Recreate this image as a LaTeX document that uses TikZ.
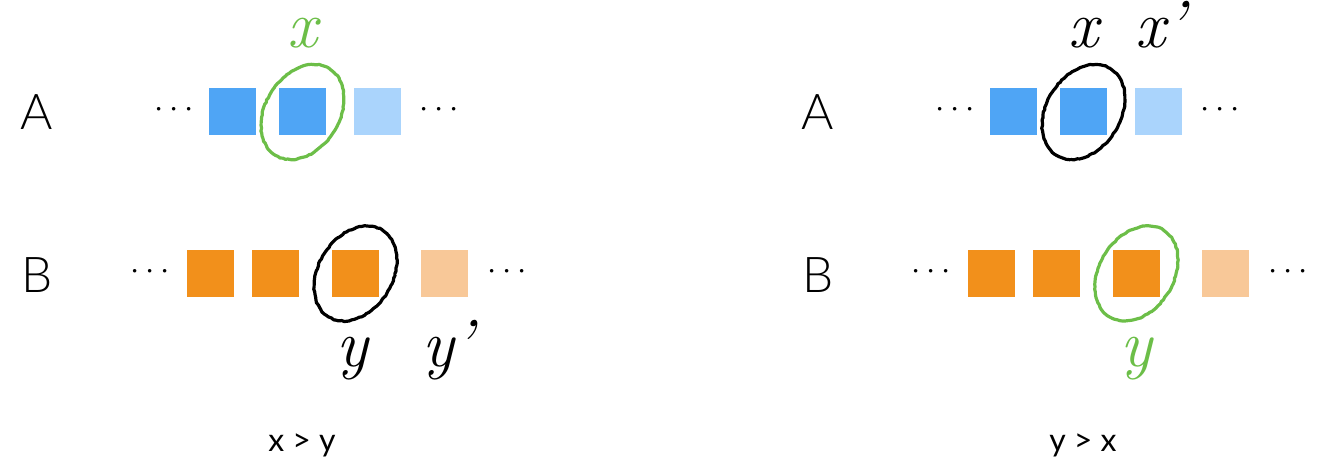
\documentclass[tikz,border=0pt]{standalone}
\usepackage{fontspec}
\setmainfont{Lato}
\newfontfamily\labelfont{Lato}[UprightFont=* Light]
\newfontfamily\handfont{Latin Modern Roman}
\usetikzlibrary{positioning,decorations.pathmorphing}

\definecolor{cellblue}{RGB}{79,165,245}
\definecolor{cellbluelt}{RGB}{170,212,252}
\definecolor{cellorange}{RGB}{242,144,27}
\definecolor{cellorangelt}{RGB}{248,200,152}
\definecolor{markgreen}{RGB}{108,190,72}

\tikzset{every picture/.style={line width=0.75pt}}
\tikzset{
  cell/.style={rectangle, inner sep=0pt, minimum size=35.25pt},
  rowlabel/.style={font=\labelfont\fontsize{37}{37}\selectfont},
  dotsnode/.style={font=\fontsize{25}{25}\selectfont, inner sep=0pt},
  hand/.style={font=\handfont\itshape\fontsize{50}{50}\selectfont, inner sep=0pt, anchor=base},
  ring/.style={line width=2.4pt, line join=round, decorate, decoration={random steps, segment length=2pt, amplitude=0.35pt}},
  caption/.style={font=\fontsize{24}{24}\selectfont}
}

\begin{document}
\begin{tikzpicture}[x=0.75pt,y=0.75pt,yscale=-1,xscale=1]
	\useasboundingbox (0,0) rectangle (1328,470);

	%Left panel: x > y
	% Text Node
	\node[rowlabel] (la) at (37,112) {A};
	\node[rowlabel] (lb) at (37,275) {B};

	% Row A
	\node[dotsnode] (ladots1) at (174,110) {$\cdots$};
	\node[cell, fill=cellblue] (la1) at (232.5,112) {};
	\node[cell, fill=cellblue] (la2) at (302.5,112) {};
	\node[cell, fill=cellbluelt] (la3) at (377.5,112) {};
	\node[dotsnode] (ladots2) at (439,110) {$\cdots$};

	% Row B
	\node[dotsnode] (lbdots1) at (150,272) {$\cdots$};
	\node[cell, fill=cellorange] (lb1) at (210.5,273.5) {};
	\node[cell, fill=cellorange] (lb2) at (275.5,273.5) {};
	\node[cell, fill=cellorange] (lb3) at (355.5,273.5) {};
	\node[cell, fill=cellorangelt] (lb4) at (444,273.5) {};
	\node[dotsnode] (lbdots2) at (507,272) {$\cdots$};

	%Rings
	\draw[ring, markgreen, rotate around={-58:(la2)}] (la2) ellipse [x radius=51, y radius=37];
	\draw[ring, black, rotate around={-58:(lb3)}] (lb3) ellipse [x radius=51, y radius=37];

	% Hand labels
	\node[hand, text=markgreen] (lx) at (302,48) {x};
	\node[hand] (ly) at (352,366) {y};
	\node[hand] (lyp) at (448,366) {y’};

	\node[caption] (lcap) at (302,445) {x > y};

	%Right panel: y > x
	% Text Node
	\node[rowlabel] (ra) at (818,112) {A};
	\node[rowlabel] (rb) at (818,275) {B};

	% Row A
	\node[dotsnode] (radots1) at (955,110) {$\cdots$};
	\node[cell, fill=cellblue] (ra1) at (1013.5,112) {};
	\node[cell, fill=cellblue] (ra2) at (1083.5,112) {};
	\node[cell, fill=cellbluelt] (ra3) at (1158.5,112) {};
	\node[dotsnode] (radots2) at (1220,110) {$\cdots$};

	% Row B
	\node[dotsnode] (rbdots1) at (931,272) {$\cdots$};
	\node[cell, fill=cellorange] (rb1) at (991.5,273.5) {};
	\node[cell, fill=cellorange] (rb2) at (1056.5,273.5) {};
	\node[cell, fill=cellorange] (rb3) at (1136.5,273.5) {};
	\node[cell, fill=cellorangelt] (rb4) at (1225,273.5) {};
	\node[dotsnode] (rbdots2) at (1288,272) {$\cdots$};

	%Rings
	\draw[ring, black, rotate around={-58:(ra2)}] (ra2) ellipse [x radius=51, y radius=37];
	\draw[ring, markgreen, rotate around={-58:(rb3)}] (rb3) ellipse [x radius=51, y radius=37];

	% Hand labels
	\node[hand] (rx) at (1083,48) {x};
	\node[hand] (rxp) at (1160,48) {x’};
	\node[hand, text=markgreen] (ry) at (1136,366) {y};

	\node[caption] (rcap) at (1083,445) {y > x};

\end{tikzpicture}
\end{document}
